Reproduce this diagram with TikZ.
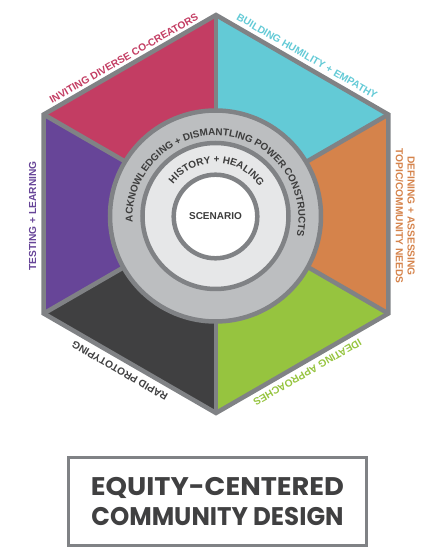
\documentclass[tikz,border=0pt]{standalone}
\usepackage{fontspec}
\setmainfont{Liberation Sans}
\newfontfamily\titlefont{Poppins}
\usetikzlibrary{calc,decorations.text}
\definecolor{cpink}{HTML}{C33D63}
\definecolor{ccyan}{HTML}{63CAD6}
\definecolor{corange}{HTML}{D5834B}
\definecolor{cgreen}{HTML}{96C43F}
\definecolor{cdark}{HTML}{404041}
\definecolor{cpurple}{HTML}{674598}
\definecolor{cgray}{HTML}{808285}
\definecolor{cring}{HTML}{BCBEC0}
\definecolor{cmid}{HTML}{E6E7E8}
\definecolor{ctext}{HTML}{3C3C3C}
\tikzset{
  gline/.style={draw=cgray, line width=4.5pt},
  ringcircle/.style={circle, draw=cgray, line width=4.5pt, inner sep=0pt},
  lbl/.style={font=\bfseries\fontsize{10.2}{11.7}\selectfont, inner sep=0pt},
  titlebox/.style={draw=cgray, line width=3pt, minimum width=298pt, minimum height=88pt,
    align=center, text=cdark, font=\titlefont\bfseries\fontsize{25.5}{30}\selectfont}
}
\begin{document}
\begin{tikzpicture}[x=1pt,y=1pt]
\useasboundingbox (0,0) rectangle (447,558);
% hexagon
\coordinate (C) at (216,344);
\coordinate (vT) at (216,543);
\coordinate (vTR) at (388.3,443.5);
\coordinate (vBR) at (388.3,244.5);
\coordinate (vB) at (216,145);
\coordinate (vBL) at (43.7,244.5);
\coordinate (vTL) at (43.7,443.5);
\fill[cpink] (C) -- (vTL) -- (vT) -- cycle;
\fill[ccyan] (C) -- (vT) -- (vTR) -- cycle;
\fill[corange] (C) -- (vTR) -- (vBR) -- cycle;
\fill[cgreen] (C) -- (vBR) -- (vB) -- cycle;
\fill[cdark] (C) -- (vB) -- (vBL) -- cycle;
\fill[cpurple] (C) -- (vBL) -- (vTL) -- cycle;
\foreach \v in {vT,vTR,vBR,vB,vBL,vTL} \draw[gline] (C) -- (\v);
\draw[gline, line join=miter] (vT) -- (vTR) -- (vBR) -- (vB) -- (vBL) -- (vTL) -- cycle;
% circles
\node[ringcircle, fill=cring, minimum size=211pt] (outer) at (215.5,342) {};
\node[ringcircle, fill=cmid, minimum size=146pt] (middle) at (215.5,342) {};
\node[ringcircle, fill=white, minimum size=83.6pt, font=\bfseries\fontsize{10}{12}\selectfont, text=ctext] (inner) at (215.5,341.5) {SCENARIO};
% ring texts
\path[decorate, decoration={text along path, text align=center,
  text={|\bfseries\fontsize{9.9}{12}\selectfont\color{ctext}|ACKNOWLEDGING + DISMANTLING POWER CONSTRUCTS}}]
  (215.5,339.5) ++(185:83) arc[start angle=185, end angle=-15, radius=83];
\path[decorate, decoration={text along path, text align=center,
  text={|\bfseries\fontsize{10}{12}\selectfont\color{ctext}|HISTORY + HEALING}}]
  (215.5,342) ++(168.5:53) arc[start angle=168.5, end angle=8.5, radius=53];
% edge labels
\node[lbl, text=cpink, rotate=30, anchor=base] (lPink) at ($(vTL)!0.49!(vT)!5pt!90:(vT)$) {INVITING DIVERSE CO-CREATORS};
\node[lbl, text=ccyan, rotate=-30, anchor=base] (lCyan) at ($(vT)!0.5!(vTR)!6.3pt!90:(vTR)$) {BUILDING HUMILITY + EMPATHY};
\node[lbl, text=corange, rotate=-90, align=center] (lOrange) at (405.3,342) {DEFINING + ASSESSING\\TOPIC/COMMUNITY NEEDS};
\node[lbl, text=cgreen, rotate=210, anchor=base] (lGreen) at ($(vBR)!0.5!(vB)!7pt!90:(vB)$) {IDEATING APPROACHES};
\node[lbl, text=cdark, rotate=150, anchor=base] (lDark) at ($(vB)!0.525!(vBL)!8pt!90:(vBL)$) {RAPID PROTOTYPING};
\node[lbl, text=cpurple, rotate=90] (lPurple) at (32.5,342) {TESTING + LEARNING};
% title
\node[titlebox] (title) at (217.5,56.5) {\scalebox{1.07}[1]{EQUITY-CENTERED}\\\scalebox{0.96}[1]{COMMUNITY DESIGN}};
\end{tikzpicture}
\end{document}
